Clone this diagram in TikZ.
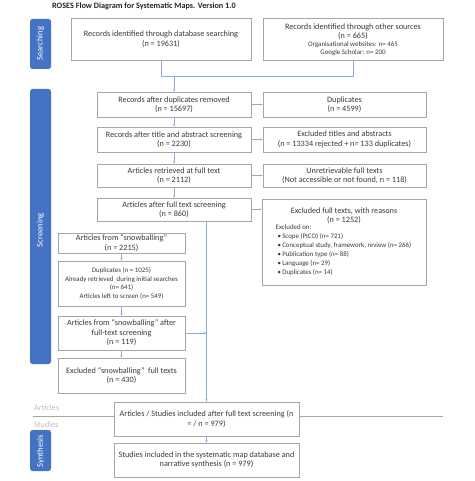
\documentclass[tikz,border=0pt]{standalone}
\usepackage{fontspec}
\setmainfont{Carlito}
\usetikzlibrary{arrows.meta,calc}
\definecolor{tabblue}{HTML}{4472C4}
\definecolor{boxgray}{HTML}{A6A6A6}
\definecolor{linkblue}{HTML}{8FAADC}
\definecolor{txt}{HTML}{3A3A3A}
\definecolor{lightlabel}{HTML}{BFBFBF}
\begin{document}
\begin{tikzpicture}[x=1pt,y=-1pt,
  box/.style={draw=boxgray,line width=0.6pt,fill=white,text=txt,align=center,inner sep=0pt,
    font=\fontsize{8.2}{9.5}\selectfont},
  small/.style={font=\fontsize{6.9}{8.7}\selectfont},
  tab/.style={fill=tabblue,rounded corners=2.5pt},
  tabtext/.style={rotate=90,text=white,font=\fontsize{8.6}{9}\selectfont},
  link/.style={draw=linkblue,line width=0.5pt},
  arr/.style={link,-{Stealth[length=2.5pt,width=2pt]}}]
\useasboundingbox (0,0) rectangle (474,481);
\fill[white] (0,0) rectangle (474,481);
% title
\node[anchor=west,text=black!85,font=\bfseries\fontsize{8.2}{9}\selectfont,inner sep=0pt] (title) at (52,6) {ROSES Flow Diagram for Systematic Maps. Version 1.0};
% tabs
\fill[tab] (30,19) rectangle (51,69);
\node[tabtext] (tsearch) at (40.5,43.5) {Searching};
\fill[tab] (30,89) rectangle (51,364);
\node[tabtext] (tscreen) at (40.5,230) {Screening};
\fill[tab] (30,430) rectangle (51,471);
\node[tabtext] (tsynth) at (40.5,451) {Synthesis};
% articles / studies divider
\draw[draw=boxgray,line width=0.6pt] (33,416) -- (443,416);
\node[anchor=west,text=lightlabel,font=\fontsize{8.2}{9}\selectfont,inner sep=0pt] (lart) at (34,408) {Articles};
\node[anchor=west,text=lightlabel,font=\fontsize{8.2}{9}\selectfont,inner sep=0pt] (lstud) at (34,424.5) {Studies};
% searching boxes
\node[box,minimum width=180pt,minimum height=42pt] (db) at (161,39) {Records identified through database searching\\(n = 19631)};
\node[box,minimum width=180pt,minimum height=42pt] (other) at (353,39.5) {Records identified through other sources\\(n = 665)\\[-1.8pt]{\fontsize{6.9}{7.3}\selectfont Organisational websites: n= 465}\\[-1.8pt]{\fontsize{6.9}{7.3}\selectfont Google Scholar: n= 200}};
% screening main column
\node[box,minimum width=154pt,minimum height=25pt] (dedup) at (174,104.5) {Records after duplicates removed\\(n = 15697)};
\node[box,minimum width=163pt,minimum height=25pt] (dups) at (344.5,104.5) {Duplicates\\(n = 4599)};
\node[box,minimum width=154pt,minimum height=25pt] (tiab) at (174,139.5) {Records after title and abstract screening\\(n = 2230)};
\node[box,minimum width=163pt,minimum height=25pt] (extiab) at (344.5,139.5) {Excluded titles and abstracts\\(n = 13334 rejected + n= 133 duplicates)};
\node[box,minimum width=154pt,minimum height=23pt] (retr) at (174,175.5) {Articles retrieved at full text\\(n = 2112)};
\node[box,minimum width=163pt,minimum height=23pt] (unretr) at (344.5,175.5) {Unretrievable full texts\\(Not accessible or not found, n = 118)};
\node[box,minimum width=154pt,minimum height=23pt] (ft) at (174,209.5) {Articles after full text screening\\(n = 860)};
\node[box,minimum width=164pt,minimum height=86pt] (exft) at (344,242) {};
\node[text=txt,align=center,inner sep=0pt,font=\fontsize{8.2}{9}\selectfont] (exfthead) at (344,215.5) {Excluded full texts, with reasons\\(n = 1252)};
\node[text=txt,align=left,anchor=north west,inner sep=0pt,font=\fontsize{6.9}{9}\selectfont] (exftlist) at (275.5,225) {Excluded on:\\
\hspace*{2pt}\textbullet\,Scope (PICO) (n= 721)\\
\hspace*{2pt}\textbullet\,Conceptual study, framework, review (n= 266)\\
\hspace*{2pt}\textbullet\,Publication type (n= 88)\\
\hspace*{2pt}\textbullet\,Language (n= 29)\\
\hspace*{2pt}\textbullet\,Duplicates (n= 14)};
% snowballing column
\node[box,minimum width=127pt,minimum height=20pt] (snow) at (121.5,243) {Articles from “snowballing”\\(n = 2215)};
\node[box,small,minimum width=127pt,minimum height=45pt] (snowdup) at (121.5,283.5) {Duplicates (n = 1025)\\Already retrieved~ during initial searches\\(n= 641)\\Articles left to screen (n= 549)};
\node[box,minimum width=127pt,minimum height=34pt,font=\fontsize{8.2}{9.6}\selectfont] (snowft) at (121.5,333) {Articles from “snowballing” after\\full-text screening\\(n = 119)};
\node[box,minimum width=127pt,minimum height=35pt] (snowex) at (121.5,375.5) {Excluded “snowballing”~ full texts\\(n = 430)};
% synthesis
\node[box,minimum width=185pt,minimum height=34pt] (incl) at (206.5,419) {Articles / Studies included after full text screening (n\\= / n = 979)};
\node[box,minimum width=185pt,minimum height=34pt] (final) at (206.5,460) {Studies included in the systematic map database and\\narrative synthesis (n = 979)};
% connectors
\coordinate (jl) at (161,76);
\coordinate (jr) at (353,76);
\coordinate (jm) at (174,76);
\draw[link] (db.south) -- (jl) -- (jr) -- (other.south);
\draw[arr] (jm) -- (dedup.north);
\draw[arr] (dedup.east) -- (dups.west);
\draw[arr] (dedup.south) -- (tiab.north);
\draw[arr] (tiab.east) -- (extiab.west);
\draw[arr] (tiab.south) -- (retr.north);
\draw[arr] (retr.east) -- (unretr.west);
\draw[arr] (retr.south) -- (ft.north);
\draw[arr] (ft.east) -- (ft.east -| exft.west);
\draw[arr] (ft.south -| incl.north) -- (incl.north);
\draw[arr] (snowft.east) -- (snowft.east -| incl.north);
\draw[arr] (snow.south) -- (snowdup.north);
\draw[arr] (snowdup.south) -- (snowft.north);
\draw[arr] (snowft.south) -- (snowex.north);
\draw[arr] (incl.south) -- (final.north);
\end{tikzpicture}
\end{document}
